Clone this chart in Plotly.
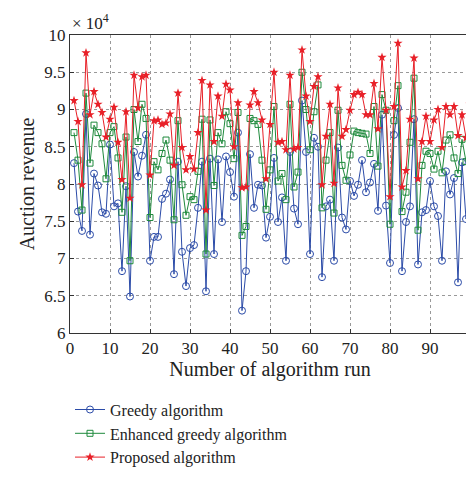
import plotly.graph_objects as go

runs = list(range(1, 101))

greedy = [
    8.28, 7.63, 7.37, 8.94, 7.32, 8.14, 7.98, 7.62, 7.60, 8.53,
    7.70, 7.74, 6.83, 7.97, 6.49, 8.43, 8.10, 8.38, 8.66, 6.97,
    7.29, 7.29, 7.80, 7.87, 8.06, 6.79, 8.30, 7.09, 6.63, 7.14,
    7.18, 7.68, 8.30, 6.56, 8.34, 7.06, 8.33, 7.49, 8.37, 8.16,
    7.83, 8.69, 6.30, 6.83, 8.40, 7.68, 7.99, 7.98, 7.28, 7.56,
    8.35, 7.49, 7.82, 6.97, 8.43, 7.67, 7.46, 9.12, 8.43, 7.06,
    8.62, 8.50, 6.75, 7.70, 7.79, 6.97, 8.49, 7.55, 7.39, 8.04,
    7.84, 7.99, 8.32, 7.89, 8.02, 8.27, 7.64, 8.93, 7.71, 6.94,
    8.66, 9.02, 6.83, 7.49, 7.70, 8.87, 6.92, 7.62, 7.65, 8.04,
    7.70, 7.57, 6.97, 8.17, 7.86, 8.08, 6.68, 8.29, 7.53, 7.83,
]

enhanced = [
    8.69, 8.32, 7.65, 9.22, 8.28, 8.79, 8.69, 8.54, 8.07, 8.69,
    8.77, 8.35, 7.62, 8.63, 6.97, 9.00, 8.57, 9.07, 8.88, 7.55,
    8.30, 8.19, 8.41, 8.59, 8.32, 7.52, 8.85, 7.99, 7.58, 7.83,
    7.79, 8.17, 8.87, 7.06, 8.86, 7.98, 8.69, 8.54, 8.97, 8.81,
    8.34, 8.96, 7.31, 7.43, 8.88, 8.85, 8.80, 8.32, 7.66, 8.19,
    9.04, 8.04, 8.14, 7.79, 9.07, 7.96, 8.16, 9.50, 9.00, 8.46,
    8.97, 9.33, 7.68, 8.32, 8.69, 7.61, 8.99, 8.25, 8.05, 8.39,
    8.71, 8.69, 8.68, 8.67, 8.41, 9.04, 8.24, 9.20, 8.99, 7.46,
    8.85, 9.32, 7.63, 7.89, 8.56, 9.42, 7.38, 8.25, 8.44, 8.41,
    8.20, 8.44, 8.15, 8.59, 8.66, 8.35, 8.14, 8.60, 8.30, 8.56,
]

proposed = [
    9.12, 8.84, 7.99, 9.76, 8.93, 9.24, 9.07, 8.96, 8.63, 8.87,
    9.03, 8.56, 8.06, 8.97, 7.81, 9.46, 9.02, 9.44, 9.46, 8.12,
    8.85, 8.86, 8.80, 8.82, 8.94, 8.25, 9.22, 8.49, 8.19, 8.37,
    8.20, 8.69, 9.39, 7.65, 9.33, 8.57, 9.18, 8.91, 9.34, 9.26,
    8.50, 9.09, 7.95, 7.96, 9.06, 9.24, 9.09, 8.86, 8.07, 8.80,
    9.50, 8.56, 8.57, 8.46, 9.46, 8.47, 8.49, 9.80, 9.18, 8.84,
    9.31, 9.44, 7.99, 8.64, 9.07, 8.01, 9.29, 8.64, 8.73, 8.99,
    9.20, 9.23, 9.20, 8.93, 8.93, 9.35, 8.74, 9.70, 8.99, 7.83,
    9.04, 9.89, 7.96, 8.18, 8.87, 9.69, 8.07, 8.57, 8.91, 8.57,
    8.86, 9.00, 8.49, 9.04, 8.93, 9.04, 8.65, 8.93, 8.62, 9.07,
]

y_ticks = [6, 6.5, 7, 7.5, 8, 8.5, 9, 9.5, 10]
x_ticks = list(range(0, 101, 10))

serif = "Liberation Serif"

fig = go.Figure()
fig.add_trace(go.Scatter(
    x=runs, y=greedy, name="Greedy algorithm", mode="lines+markers",
    line=dict(color="#2b4ba8", width=1),
    marker=dict(symbol="circle-open", size=7, color="#2b4ba8", line=dict(width=1)),
))
fig.add_trace(go.Scatter(
    x=runs, y=enhanced, name="Enhanced greedy algorithm", mode="lines+markers",
    line=dict(color="#1e8a3c", width=1),
    marker=dict(symbol="square-open", size=6, color="#1e8a3c", line=dict(width=1)),
))
fig.add_trace(go.Scatter(
    x=runs, y=proposed, name="Proposed algorithm", mode="lines+markers",
    line=dict(color="#e82028", width=1),
    marker=dict(symbol="star", size=7, color="#e82028"),
))

axis_common = dict(
    showline=True, linecolor="#333", linewidth=1, mirror=True,
    showgrid=True, gridcolor="#999", griddash="dot", gridwidth=1,
    ticks="inside", ticklen=4, tickcolor="#333",
    zeroline=False, tickfont=dict(family=serif, size=17, color="#222"),
)

fig.update_layout(
    width=474, height=479,
    margin=dict(l=62, r=12, t=27, b=138),
    paper_bgcolor="white", plot_bgcolor="white",
    font=dict(family=serif, size=17, color="#222"),
    xaxis=dict(range=[0, 100], tickvals=x_ticks,
               title=dict(text="Number of algorithm run", standoff=2), **axis_common),
    yaxis=dict(range=[6, 10], tickvals=y_ticks,
               title=dict(text="Auction revenue", standoff=4), **axis_common),
    legend=dict(x=0.0, y=-0.2, xanchor="left", yanchor="top",
                font=dict(family=serif, size=16), tracegroupgap=2,
                bgcolor="rgba(0,0,0,0)"),
    annotations=[dict(text="× 10<sup>4</sup>", xref="paper", yref="paper",
                      x=0.0, y=1.0, xanchor="left", yanchor="bottom",
                      showarrow=False, font=dict(family=serif, size=17))],
)

fig.write_html("out.html")
